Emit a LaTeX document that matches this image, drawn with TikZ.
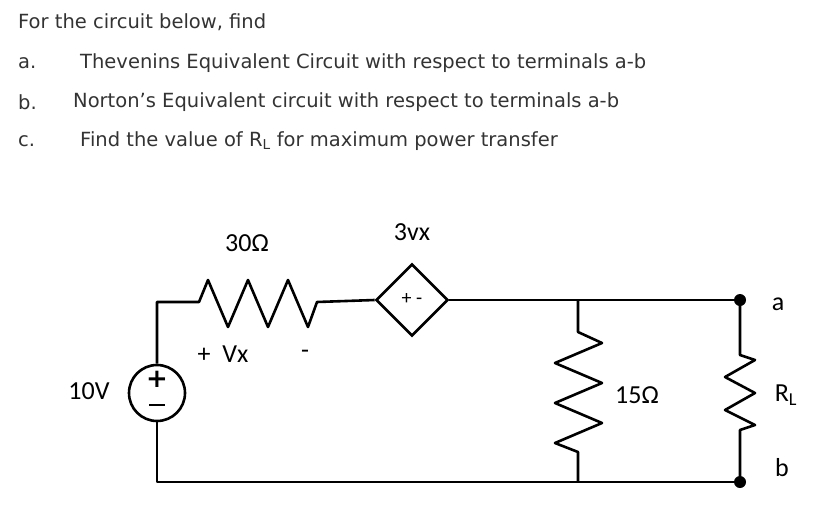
\documentclass[tikz,border=0pt]{standalone}
\usepackage{fontspec}
\setmainfont{DejaVu Sans}
\newfontfamily\calfont{Carlito}
\usetikzlibrary{shapes.geometric}
\begin{document}
\begin{tikzpicture}[x=1pt,y=-1pt,
  hdr/.style={anchor=west,text=black!80,font=\fontsize{19.5}{22}\selectfont,inner sep=0},
  lbl/.style={font=\calfont\fontsize{26}{28}\selectfont,inner sep=0},
  wire/.style={line width=2.6pt,line join=round}]
\useasboundingbox (0,0) rectangle (821,504);
\node[hdr] (t0) at (18,22) {For the circuit below, find};
\node[hdr] (ta) at (18,63) {a.};
\node[hdr] (tat) at (80,63) {Thevenins Equivalent Circuit with respect to terminals a-b};
\node[hdr] (tb) at (18,102) {b.};
\node[hdr] (tbt) at (73,102) {Norton’s Equivalent circuit with respect to terminals a-b};
\node[hdr] (tc) at (18,141) {c.};
\node[hdr] (tct) at (80,141) {Find the value of R\textsubscript{L} for maximum power transfer};
% source
\node[draw,circle,line width=2.6pt,minimum size=56pt,inner sep=0] (src) at (157,393) {};
\node[font=\bfseries\fontsize{26}{26}\selectfont] at (157,379) {+};
\draw[line width=2.8pt] (149,405)--(165,405);
\coordinate (tl) at (157,302);
\coordinate (bl) at (157,482);
\coordinate (ta1) at (740,300);
\coordinate (bb) at (740,482);
\node[draw,diamond,line width=2.6pt,minimum size=72pt,inner sep=0] (dep) at (412,300) {};
\node[lbl,font=\calfont\fontsize{20}{20}\selectfont] at (412,299) {+ -};
\draw[wire] (src.north)--(tl)--(199,302)--(208,280)--(228,327)--(248,280)--(268,327)--(288,280)--(308,327)--(317,302)--(dep.west);
\draw[wire] (dep.east)--(ta1);
\draw[wire] (src.south)--(bl)--(bb);
\draw[wire] (578,300)--(578,332)--(602,343)--(555,363)--(602,383)--(555,403)--(602,423)--(555,443)--(578,452)--(578,482);
\draw[wire] (ta1)--(740,355)--(755,360)--(725,377)--(755,393)--(725,410)--(755,425)--(740,430)--(bb);
\fill (ta1) circle (6);
\fill (bb) circle (6);
\node[lbl] (l30) at (247,243) {30Ω};
\node[lbl] (l3) at (412,232) {3vx};
\node[lbl] (lvx) at (223,354) {+\ \ Vx};
\node[lbl] (lm) at (305,354) {-};
\node[lbl] (l10) at (89,391) {10V};
\node[lbl] (l15) at (637,395) {15Ω};
\node[lbl] (la) at (778,304) {a};
\node[lbl] (lrl) at (786,395) {R\textsubscript{L}};
\node[lbl] (lb) at (782,468) {b};
\end{tikzpicture}
\end{document}
